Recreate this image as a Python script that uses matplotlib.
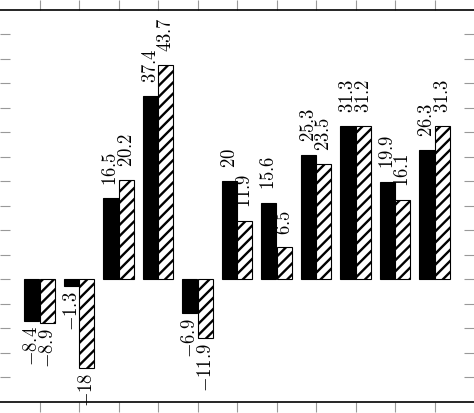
import matplotlib
matplotlib.use('Agg')
import matplotlib.pyplot as plt
import numpy as np

groups = list(range(1, 12))
series_a = [-8.4, -1.3, 16.5, 37.4, -6.9, 20, 15.6, 25.3, 31.3, 19.9, 26.3]
series_b = [-8.9, -18, 20.2, 43.7, -11.9, 11.9, 6.5, 23.5, 31.2, 16.1, 31.3]
yticks = list(range(-20, 55, 5))

plt.rcParams['mathtext.fontset'] = 'cm'
plt.rcParams['hatch.linewidth'] = 1.7


def fmt(v):
    return '$' + ('%g' % v) + '$'


fig = plt.figure(figsize=(4.74, 4.14), dpi=100)
ax = fig.add_axes([0, 11 / 414, 1, 392.5 / 414])
x = np.array(groups, dtype=float)
w = 0.39
ax.bar(x - w / 2, series_a, w, color='black', edgecolor='black', linewidth=0.8)
ax.bar(x + w / 2, series_b, w, color='white', edgecolor='black',
       hatch='///', linewidth=0.8)

for xs, vals in ((x - w / 2, series_a), (x + w / 2, series_b)):
    for xi, v in zip(xs, vals):
        if v >= 0:
            ax.annotate(fmt(v), (xi, v), xytext=(0, 10), textcoords='offset points',
                        rotation=90, ha='center', va='bottom', fontsize=13.5)
        else:
            ax.annotate(fmt(v), (xi, v), xytext=(0, -3), textcoords='offset points',
                        rotation=90, ha='center', va='top', fontsize=13.5)

ax.set_xlim(0, 12)
ax.set_ylim(-25, 55)
ax.set_yticks(yticks)
ax.set_xticks(groups)
ax.tick_params(axis='y', direction='in', left=True, right=True, length=7,
               width=0.8, color='#999999', labelleft=False, labelright=False)
ax.tick_params(axis='x', direction='out', top=True, bottom=True, length=7.5,
               width=0.8, color='#999999', labelbottom=False, labeltop=False)
ax.spines['left'].set_visible(False)
ax.spines['right'].set_visible(False)
for s in ('top', 'bottom'):
    ax.spines[s].set_linewidth(1.2)
    ax.spines[s].set_color('black')

fig.savefig('out.png', dpi=100)
